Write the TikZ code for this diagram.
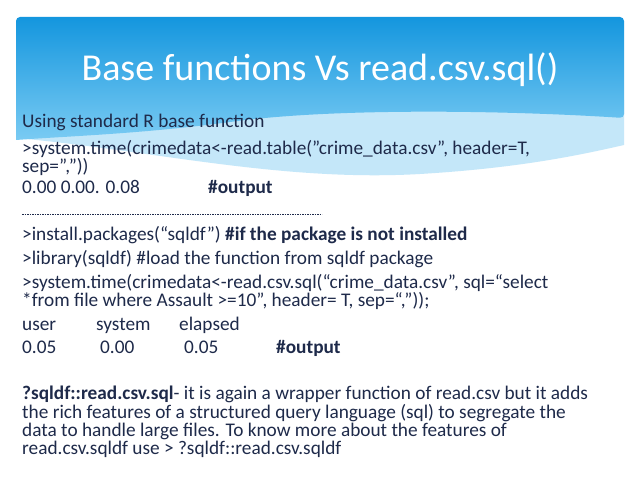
\documentclass[tikz,border=0pt]{standalone}
\usepackage{fontspec}
\setmainfont{Carlito}
\newcommand{\dq}{\char"0022\relax}
\begin{document}
\begin{tikzpicture}[x=1pt,y=-1pt,
  ln/.style={anchor=base west,inner sep=0pt,text=txt,font=\fontsize{19.3}{22}\selectfont},
  bd/.style={font=\fontsize{19.3}{22}\selectfont\bfseries}]
\definecolor{txt}{HTML}{1E2A4A}
\definecolor{btop}{HTML}{1496DE}
\definecolor{bbot}{HTML}{7ACBF3}
\definecolor{wave}{HTML}{C4E7F9}
\useasboundingbox (0,0) rectangle (638,478);
\fill[white] (0,0) rectangle (638,478);
% light wave
\fill[wave] (16,138) .. controls (150,150) and (280,182) .. (420,174) .. controls (520,168) and (580,155) .. (624,145) -- (624,100) -- (16,100) -- cycle;
% main band
\shade[top color=btop,bottom color=bbot,rounded corners=4pt]
  (16,140) -- (16,17) -- (624,17) -- (624,118) [sharp corners] .. controls (500,110) and (330,108) .. (230,122) .. controls (140,134) and (70,136) .. (16,140) -- cycle;
\node[anchor=center,text=white,font=\fontsize{38}{44}\selectfont] (title) at (320,70) {Base functions Vs read.csv.sql()};
\node[ln] (l1) at (22,128) {Using standard R base function};
\node[ln] (l2) at (22,155) {>system.time(crimedata<-read.table(\dq crime\_data.csv\dq, header=T,};
\node[ln] (l3) at (22,173) {sep=\dq,\dq))};
\node[ln] (l4) at (22,194) {0.00 0.00. 0.08};
\node[ln,bd] (l4b) at (208,194) {\#output};
\coordinate (d1) at (22,214);
\coordinate (d2) at (322,214);
\draw[txt,line width=0.5pt,dash pattern=on 1.6pt off 0.9pt] (d1) -- (d2);
\node[ln] (l6) at (22,241) {>install.packages(“sqldf”) \textbf{\#if the package is not installed}};
\node[ln] (l7) at (22,265) {>library(sqldf) \#load the function from sqldf package};
\node[ln] (l8) at (22,289) {>system.time(crimedata<-read.csv.sql(“crime\_data.csv”, sql=“select};
\node[ln] (l9) at (22,307) {*from file where Assault >=10”, header= T, sep=“,”));};
\node[ln] (l10a) at (22,331) {user};
\node[ln] (l10b) at (96,331) {system};
\node[ln] (l10c) at (179,331) {elapsed};
\node[ln] (l11a) at (22,354) {0.05};
\node[ln] (l11b) at (100,354) {0.00};
\node[ln] (l11c) at (184,354) {0.05};
\node[ln,bd] (l11d) at (276,354) {\#output};
\node[ln] (l12) at (22,400) {\textbf{?sqldf::read.csv.sql}- it is again a wrapper function of read.csv but it adds};
\node[ln] (l13) at (22,419) {the rich features of a structured query language (sql) to segregate the};
\node[ln] (l14) at (22,437) {data to handle large files. To know more about the features of};
\node[ln] (l15) at (22,455) {read.csv.sqldf use > ?sqldf::read.csv.sqldf};
\end{tikzpicture}
\end{document}
